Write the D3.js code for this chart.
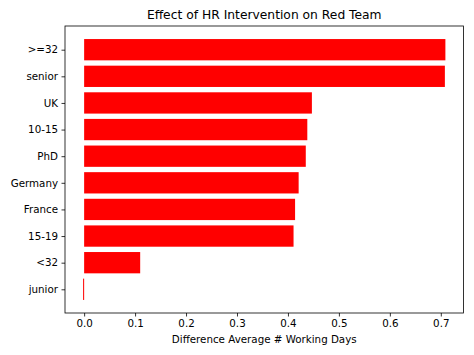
<!DOCTYPE html>
<html>
<head>
<meta charset="utf-8">
<script src="https://cdn.jsdelivr.net/npm/d3@7"></script>
<style>
  html, body { margin: 0; padding: 0; background: #fff; }
  svg { display: block; font-family: "DejaVu Sans", sans-serif; }
</style>
</head>
<body>
<svg id="chart" width="474" height="355"></svg>
<script>
// Data (bottom to top in matplotlib order)
const categories = ["junior", "<32", "15-19", "France", "Germany", "PhD", "10-15", "UK", "senior", ">=32"];
const values = [-0.002, 0.110, 0.411, 0.414, 0.421, 0.435, 0.438, 0.447, 0.708, 0.709];
const xTicks = [0.0, 0.1, 0.2, 0.3, 0.4, 0.5, 0.6, 0.7];
const title = "Effect of HR Intervention on Red Team";
const xLabel = "Difference Average # Working Days";

(function () {
const svg = d3.select("#chart");
const mLeft = 65, mRight = 463.5, mTop = 26, mBottom = 313;

const xmin = d3.min(values), xmax = d3.max(values);
const xm = (xmax - xmin) * 0.05;
const x = d3.scaleLinear().domain([xmin - xm, xmax + xm]).range([mLeft, mRight]);
const n = categories.length;
const ym = (n - 1 + 0.8) * 0.05;
const y = d3.scaleLinear().domain([-0.4 - ym, n - 1 + 0.4 + ym]).range([mBottom, mTop]);

// bars
svg.append("g").selectAll("rect").data(values).join("rect")
  .attr("x", d => Math.min(x(0), x(d)))
  .attr("width", d => Math.abs(x(d) - x(0)))
  .attr("y", (d, i) => y(i + 0.4))
  .attr("height", (d, i) => y(i - 0.4) - y(i + 0.4))
  .attr("fill", "#ff0000");

// x axis
const xAxis = d3.axisBottom(x).tickValues(xTicks).tickFormat(d3.format(".1f"))
  .tickSize(3.5).tickPadding(3.5);
const gx = svg.append("g").attr("transform", `translate(0,${mBottom})`).call(xAxis);
gx.select(".domain").remove();
gx.selectAll("line").attr("stroke", "#000").attr("stroke-width", 0.8);
gx.selectAll("text").attr("font-size", "10.3px").attr("fill", "#000")
  .attr("font-family", "DejaVu Sans");

// y axis
const yAxis = d3.axisLeft(y).tickValues(d3.range(n)).tickFormat(i => categories[i])
  .tickSize(3.5).tickPadding(3.5);
const gy = svg.append("g").attr("transform", `translate(${mLeft},0)`).call(yAxis);
gy.select(".domain").remove();
gy.selectAll("line").attr("stroke", "#000").attr("stroke-width", 0.8);
gy.selectAll("text").attr("font-size", "10.3px").attr("fill", "#000")
  .attr("font-family", "DejaVu Sans");

// frame
svg.append("rect").attr("x", mLeft).attr("y", mTop)
  .attr("width", mRight - mLeft).attr("height", mBottom - mTop)
  .attr("fill", "none").attr("stroke", "#000").attr("stroke-width", 0.8);

// title
svg.append("text").attr("x", (mLeft + mRight) / 2).attr("y", 19)
  .attr("text-anchor", "middle").attr("font-size", "12.3px").attr("fill", "#000")
  .text(title);

// x label
svg.append("text").attr("x", (mLeft + mRight) / 2).attr("y", 343)
  .attr("text-anchor", "middle").attr("font-size", "10.3px").attr("fill", "#000")
  .text(xLabel);
})();
</script>
</body>
</html>
